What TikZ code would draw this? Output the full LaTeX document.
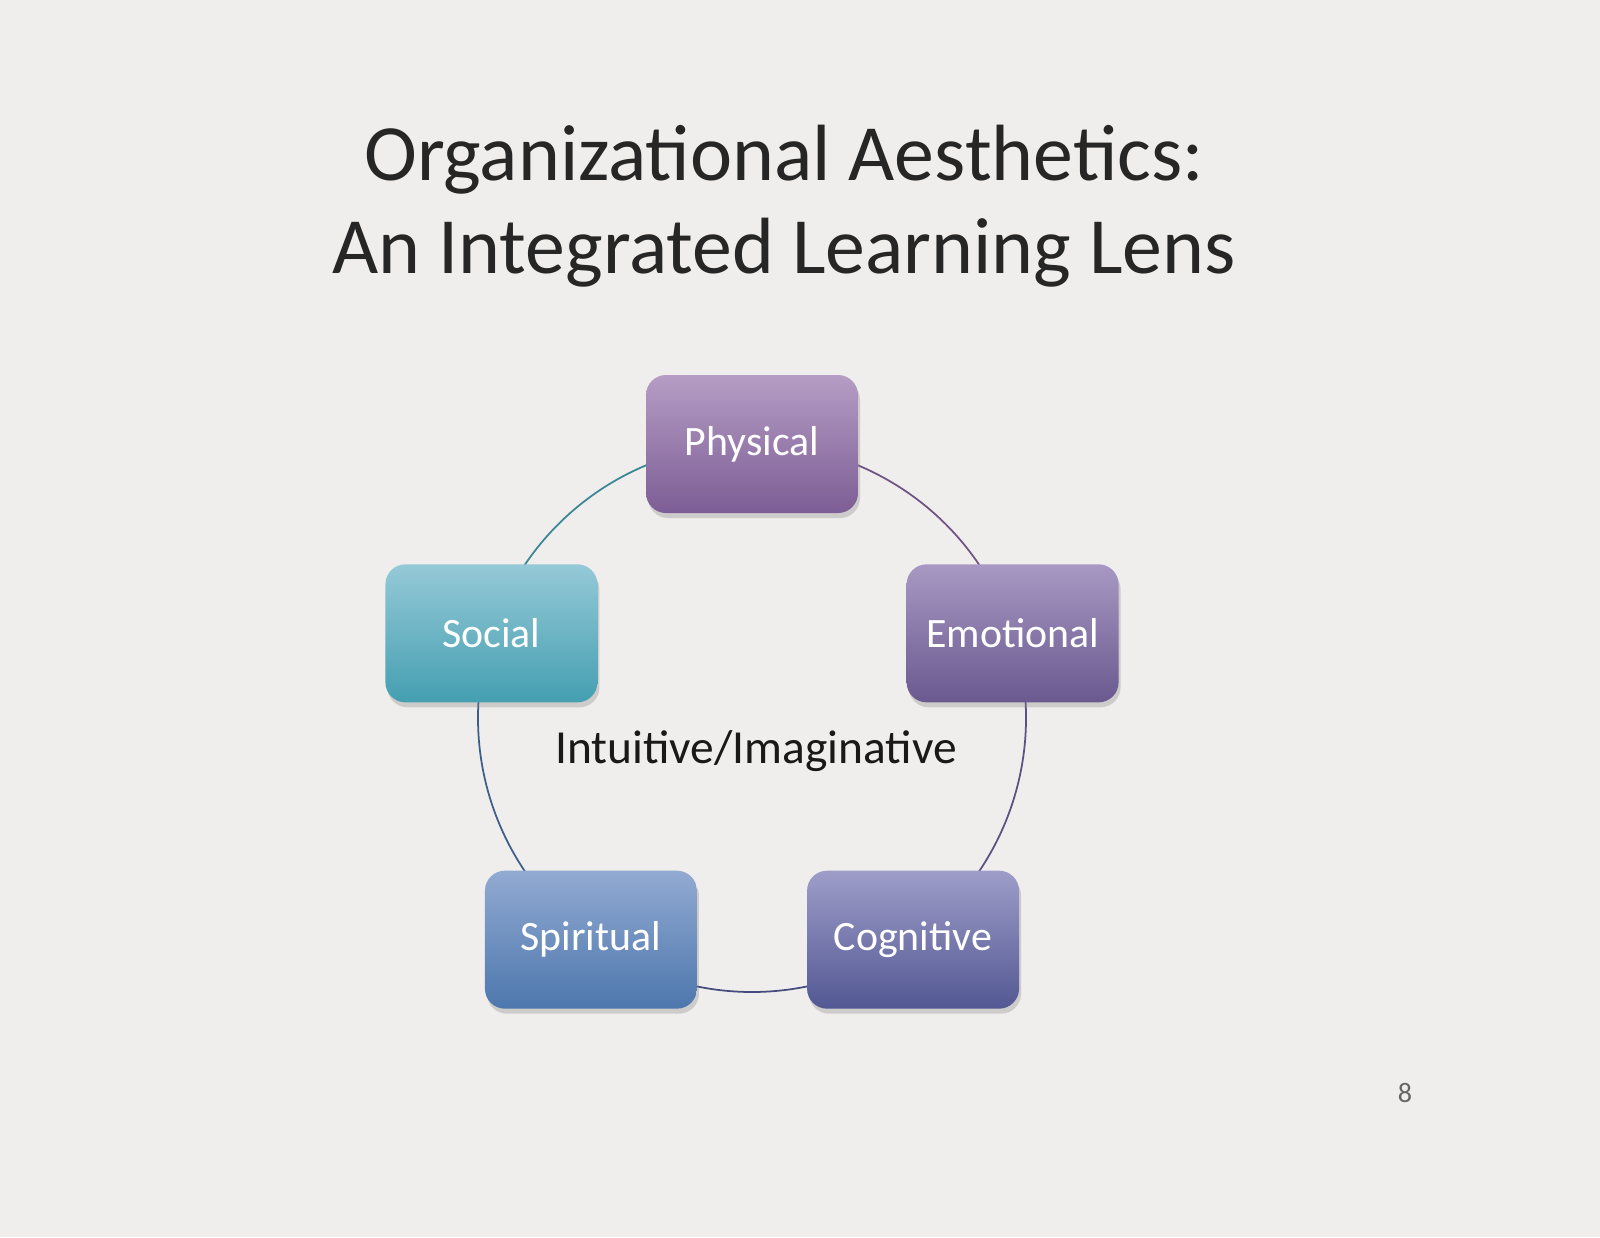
\documentclass[tikz,border=0pt]{standalone}
\usepackage{fontspec}
\setmainfont{Carlito}
\usepackage{tikz}
\usetikzlibrary{positioning,shadows,calc}

\definecolor{bgcol}{HTML}{EFEEEC}
\definecolor{physTop}{HTML}{B59DC5}
\definecolor{physBot}{HTML}{7D5D95}
\definecolor{socTop}{HTML}{95C9D7}
\definecolor{socBot}{HTML}{449FB1}
\definecolor{emoTop}{HTML}{A898C3}
\definecolor{emoBot}{HTML}{69598F}
\definecolor{spiTop}{HTML}{92AAD2}
\definecolor{spiBot}{HTML}{4D77AD}
\definecolor{cogTop}{HTML}{9E9DC9}
\definecolor{cogBot}{HTML}{535893}

\begin{document}
\begin{tikzpicture}[
    lensbox/.style={rounded corners=0.2cm, minimum width=2.12cm, minimum height=1.38cm,
        text=white, font=\fontsize{11.9}{13}\selectfont,
        drop shadow={opacity=0.3, shadow xshift=0.02cm, shadow yshift=-0.05cm}},
    ring/.style={line width=0.5pt}
]
    \fill[bgcol] (0,0) rectangle (16,12.37);
    \useasboundingbox (0,0) rectangle (16,12.37);

    % title
    \node[align=center, font=\fontsize{22.7}{26.6}\selectfont, text=black!85] (title) at (7.84,10.31)
        {Organizational Aesthetics:\\An Integrated Learning Lens};

    \coordinate (mid) at (7.52,5.19);

    % ring behind the boxes
    \draw[ring, color=socBot!85!black] (mid) ++(90:2.74) arc (90:162:2.74);
    \draw[ring, color=spiBot!80!black] (mid) ++(162:2.74) arc (162:234:2.74);
    \draw[ring, color=cogBot!85!black] (mid) ++(234:2.74) arc (234:306:2.74);
    \draw[ring, color=emoBot!90!black] (mid) ++(306:2.74) arc (306:378:2.74);
    \draw[ring, color=physBot!90!black] (mid) ++(18:2.74) arc (18:90:2.74);

    \node[lensbox, top color=physTop, bottom color=physBot] (physical) at ($(mid)+(90:2.74)$) {Physical};
    \node[lensbox, top color=emoTop, bottom color=emoBot] (emotional) at ($(mid)+(18:2.74)$) {Emotional};
    \node[lensbox, top color=cogTop, bottom color=cogBot] (cognitive) at ($(mid)+(-54:2.74)$) {Cognitive};
    \node[lensbox, top color=spiTop, bottom color=spiBot] (spiritual) at ($(mid)+(234:2.74)$) {Spiritual};
    \node[lensbox, top color=socTop, bottom color=socBot] (social) at ($(mid)+(162:2.74)$) {Social};

    \node[font=\fontsize{13.5}{15}\selectfont, text=black!90] (centre) at (7.56,4.86) {Intuitive/Imaginative};

    \node[font=\fontsize{8}{9}\selectfont, text=black!60] (pagenum) at (14.05,1.44) {8};
\end{tikzpicture}
\end{document}
